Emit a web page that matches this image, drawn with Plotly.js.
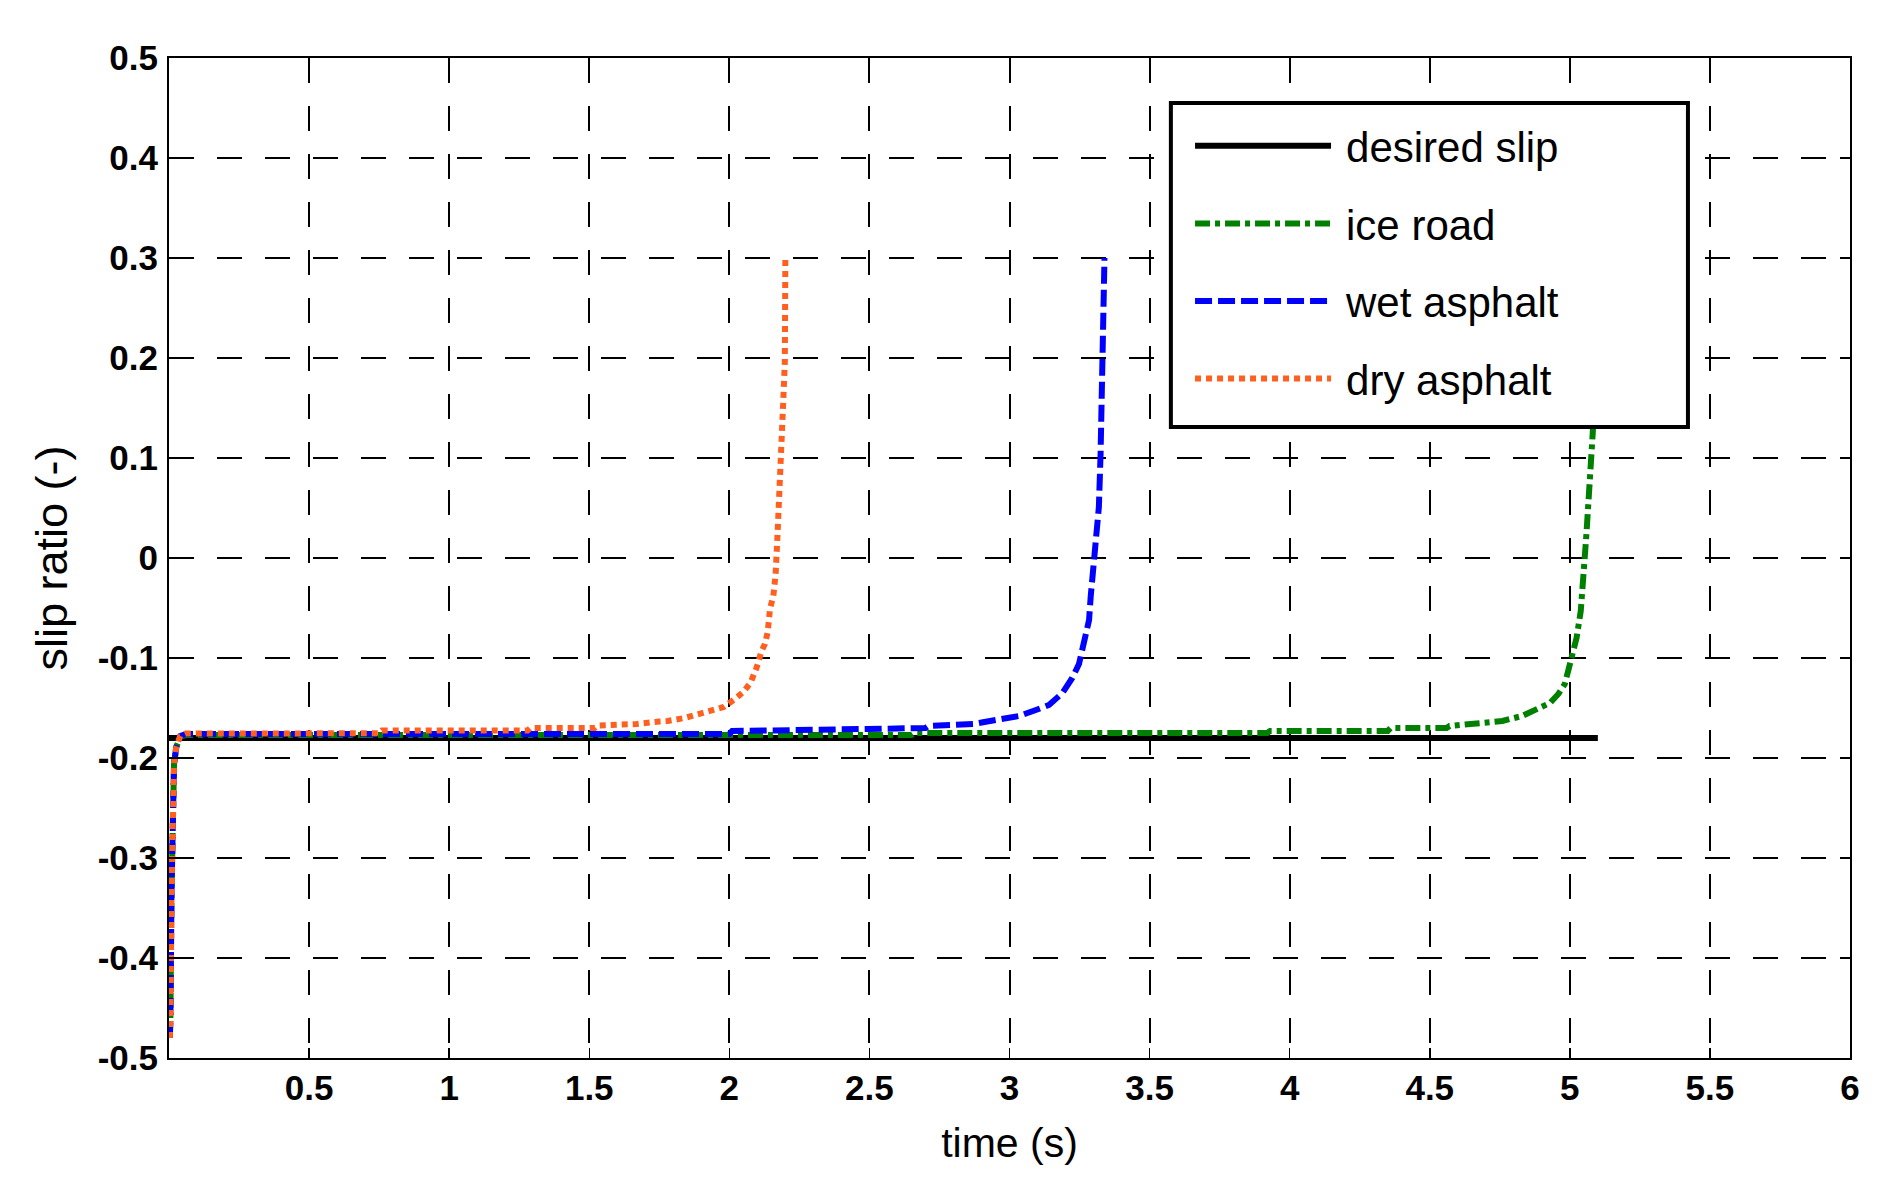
<!DOCTYPE html>
<html>
<head>
<meta charset="utf-8">
<script src="https://cdn.plot.ly/plotly-3.0.1.min.js"></script>
<style>
  html, body { margin: 0; padding: 0; background: #ffffff; }
  #chart { width: 1895px; height: 1189px; }
</style>
</head>
<body>
<div id="chart"></div>
<script>
// ---- data ----
var seriesNames = ['desired slip', 'ice road', 'wet asphalt', 'dry asphalt'];

var desiredT = [0, 5.1];
var desiredS = [-0.18, -0.18];

var iceT = [0.003, 0.005, 0.009, 0.013, 0.018, 0.026, 0.04, 0.06,
  2.65, 2.66, 3.92, 3.93, 4.35, 4.36, 4.56, 4.571, 4.688, 4.759, 4.829, 4.888, 4.929,
  4.959, 4.982, 4.994, 5.006, 5.024, 5.039, 5.047, 5.053, 5.059, 5.065, 5.072, 5.082, 5.09, 5.1];
var iceS = [-0.48, -0.46, -0.333, -0.244, -0.206, -0.189, -0.179, -0.177,
  -0.177, -0.175, -0.175, -0.173, -0.173, -0.170, -0.170, -0.168, -0.1655, -0.163, -0.158, -0.151, -0.145,
  -0.136, -0.126, -0.113, -0.100, -0.080, -0.053, -0.030, 0.0, 0.023, 0.056, 0.089, 0.126, 0.2, 0.3];

var wetT = [0.003, 0.005, 0.009, 0.013, 0.018, 0.026, 0.04, 0.06,
  2.0, 2.01, 2.48, 2.49, 2.70, 2.71, 2.87, 2.92, 2.975, 3.034, 3.094, 3.141, 3.189, 3.224,
  3.248, 3.26, 3.272, 3.284, 3.29, 3.298, 3.307, 3.319, 3.325, 3.329, 3.334, 3.337, 3.339];
var wetS = [-0.48, -0.46, -0.333, -0.244, -0.206, -0.189, -0.178, -0.176,
  -0.176, -0.173, -0.1725, -0.171, -0.170, -0.168, -0.166, -0.164, -0.161, -0.158, -0.152, -0.147, -0.135, -0.120,
  -0.106, -0.089, -0.075, -0.062, -0.038, -0.017, 0.017, 0.051, 0.103, 0.154, 0.206, 0.264, 0.30];

var dryT = [0.003, 0.005, 0.009, 0.013, 0.018, 0.026, 0.04, 0.06,
  0.75, 0.76, 1.28, 1.29, 1.52, 1.53, 1.67, 1.75, 1.78, 1.84, 1.88, 1.93, 1.98, 2.02, 2.05,
  2.075, 2.097, 2.115, 2.127, 2.137, 2.145, 2.157, 2.165, 2.171, 2.178, 2.18, 2.186, 2.192, 2.198, 2.2];
var dryS = [-0.48, -0.46, -0.333, -0.244, -0.206, -0.189, -0.178, -0.1755,
  -0.1753, -0.1726, -0.1726, -0.170, -0.170, -0.1675, -0.166, -0.1635, -0.163, -0.160, -0.157, -0.154, -0.149, -0.141, -0.134,
  -0.125, -0.110, -0.093, -0.086, -0.074, -0.051, -0.038, -0.017, 0.017, 0.055, 0.086, 0.120, 0.154, 0.195, 0.30];

var xTickVals = [0.5, 1, 1.5, 2, 2.5, 3, 3.5, 4, 4.5, 5, 5.5, 6];
var xTickText = ['0.5', '1', '1.5', '2', '2.5', '3', '3.5', '4', '4.5', '5', '5.5', '6'];
var yTickVals = [-0.5, -0.4, -0.3, -0.2, -0.1, 0, 0.1, 0.2, 0.3, 0.4, 0.5];
var yTickText = ['-0.5', '-0.4', '-0.3', '-0.2', '-0.1', '0', '0.1', '0.2', '0.3', '0.4', '0.5'];

// ---- styling ----
var FONT = '"Liberation Sans Narrow", "Arial Narrow", "Liberation Sans", Arial, sans-serif';

var traces = [
  { x: desiredT, y: desiredS, name: seriesNames[0], legendgroup: 'g0',
    line: { color: '#000000', width: 6, dash: 'solid' } },
  { x: iceT, y: iceS, name: seriesNames[1], legendgroup: 'g1',
    line: { color: '#008000', width: 6, dash: '15px,5px,5px,5px' } },
  { x: wetT, y: wetS, name: seriesNames[2], legendgroup: 'g2',
    line: { color: '#0000ff', width: 6, dash: '17px,6px' } },
  { x: dryT, y: dryS, name: seriesNames[3], legendgroup: 'g3',
    line: { color: '#ff5f1f', width: 6, dash: '6px,5px' } }
].map(function (t) { t.type = 'scatter'; t.mode = 'lines'; return t; });

var axisCommon = {
  showline: true, linecolor: '#000000', linewidth: 2, mirror: 'ticks',
  ticks: 'inside', ticklen: 10, tickwidth: 1.5, tickcolor: '#000000',
  showgrid: true, gridcolor: '#000000', zeroline: false,
  tickmode: 'array',
  tickfont: { family: FONT, size: 35, color: '#000000', weight: 'bold' }
};

var layout = {
  width: 1895, height: 1189,
  paper_bgcolor: '#ffffff', plot_bgcolor: '#ffffff',
  margin: { l: 169, r: 45, t: 58, b: 131 },
  showlegend: true,
  xaxis: Object.assign({}, axisCommon, {
    range: [0, 6], tickvals: xTickVals, ticktext: xTickText,
    gridwidth: 2, griddash: '25px,23px', ticklabelstandoff: -2,
    title: { text: 'time (s)', standoff: 22, font: { family: FONT, size: 41, color: '#000000' } }
  }),
  yaxis: Object.assign({}, axisCommon, {
    range: [-0.5, 0.5], tickvals: yTickVals, ticktext: yTickText,
    gridwidth: 1.5, griddash: '25px,23px', ticklabelstandoff: 2,
    title: { text: 'slip ratio (-)', standoff: 16, font: { family: FONT, size: 45, color: '#000000' } }
  }),
  shapes: [{
    type: 'rect', xref: 'paper', yref: 'paper', layer: 'above',
    x0: 0.596, x1: 0.9036, y0: 0.631, y1: 0.955,
    fillcolor: '#ffffff', line: { color: '#000000', width: 4 }
  }],
  legend: {
    x: 0.6074, y: 0.946, xanchor: 'left', yanchor: 'top',
    bgcolor: 'rgba(0,0,0,0)', borderwidth: 0,
    traceorder: 'grouped', tracegroupgap: 20,
    itemwidth: 136,
    font: { family: FONT, size: 42, color: '#000000' }
  }
};

Plotly.newPlot('chart', traces, layout, { displayModeBar: false, staticPlot: true }).then(function (gd) {
  // leave a small gap between the legend line samples and their labels
  gd.querySelectorAll('.legend [clip-path]').forEach(function (e) {
    e.removeAttribute('clip-path');
  });
  gd.querySelectorAll('.legend .legendtext').forEach(function (t) {
    var x = parseFloat(t.getAttribute('x')) || 0;
    t.setAttribute('x', x + 10);
  });
});
</script>
</body>
</html>
